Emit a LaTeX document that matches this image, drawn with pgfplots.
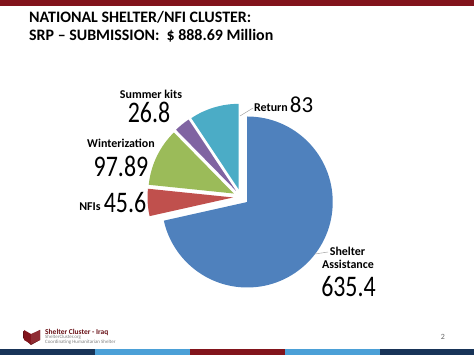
\documentclass[border=0pt]{standalone}
\usepackage{pgfplots}
\usepackage{pgfplotstable}
\pgfplotsset{compat=1.18}
\usepackage{fontspec}
\setmainfont{Carlito}
\newfontfamily\numfont[FakeStretch=0.8]{Carlito}
\definecolor{slice0}{HTML}{4F81BD}
\definecolor{slice1}{HTML}{C0504D}
\definecolor{slice2}{HTML}{9BBB59}
\definecolor{slice3}{HTML}{8064A2}
\definecolor{slice4}{HTML}{4BACC6}
\definecolor{barred}{RGB}{130,20,28}
\definecolor{barnavy}{RGB}{24,52,88}
\definecolor{barblue}{RGB}{75,160,215}
\pgfplotstableread{
name value
Shelter 635.4
NFIs 45.6
Winterization 97.89
Summerkits 26.8
Return 83
}\piedata
\def\total{0}%
\pgfplotsforeachungrouped \i in {0,...,4}{%
  \pgfplotstablegetelem{\i}{value}\of\piedata%
  \pgfmathsetmacro\total{\total+\pgfplotsretval}%
}%
\def\cum{90}%
\pgfplotsforeachungrouped \i in {0,...,4}{%
  \pgfplotstablegetelem{\i}{value}\of\piedata%
  \pgfmathsetmacro\sweep{(\pgfplotsretval/\total)*360}%
  \pgfmathsetmacro\endang{\cum-\sweep}%
  \pgfmathsetmacro\midang{\cum-\sweep/2}%
  \expandafter\xdef\csname sa\i\endcsname{\cum}%
  \expandafter\xdef\csname ea\i\endcsname{\endang}%
  \expandafter\xdef\csname ma\i\endcsname{\midang}%
  \global\let\cum\endang%
}%
\begin{document}
\begin{tikzpicture}
\begin{axis}[
  width=474bp, height=355bp, scale only axis,
  xmin=0, xmax=474, ymin=0, ymax=355,
  hide axis, clip=false]
\coordinate (BL) at (axis cs:0,0);
\coordinate (TR) at (axis cs:474,355);
% slide decoration
\fill[barred] (axis cs:0,349) rectangle (axis cs:474,355);
\fill[barnavy] (axis cs:0,0) rectangle (axis cs:95,6);
\fill[barblue] (axis cs:95,0) rectangle (axis cs:190,6);
\fill[barred] (axis cs:190,0) rectangle (axis cs:285,6);
\fill[barblue] (axis cs:285,0) rectangle (axis cs:380,6);
\fill[barnavy] (axis cs:380,0) rectangle (axis cs:474,6);
% title
\node[anchor=base west, inner sep=0pt, font=\bfseries\fontsize{16}{19}\selectfont] at (axis cs:29,332) {NATIONAL SHELTER/NFI CLUSTER:};
\node[anchor=base west, inner sep=0pt, font=\bfseries\fontsize{16}{19}\selectfont] at (axis cs:29,314) {SRP -- SUBMISSION:\ \ \$ 888.69 Million};
% pie
\pgfplotsinvokeforeach{0,...,4}{
  \fill[slice#1] ([shift={(\csname ma#1\endcsname:8bp)}]axis cs:241,158) -- ++(\csname sa#1\endcsname:85.5bp)
     arc[start angle=\csname sa#1\endcsname, end angle=\csname ea#1\endcsname, radius=85.5bp] -- cycle;
}
% labels
\tikzset{lab/.style={inner sep=0pt, font=\bfseries\fontsize{12}{14}\selectfont},
         num/.style={inner sep=0pt, font=\numfont\fontsize{30}{32}\selectfont}}
\node[lab] at (axis cs:151,261) {Summer kits};
\node[num] at (axis cs:149,243) {26.8};
\node[lab] at (axis cs:271,247) {Return};
\node[inner sep=0pt, font=\fontsize{23}{26}\selectfont] at (axis cs:301.5,250.5) {83};
\draw[gray!70, line width=0.5pt] (axis cs:240,239) -- (axis cs:253,247);
\node[lab] at (axis cs:121,212) {Winterization};
\node[num] at (axis cs:121,189) {97.89};
\node[lab] at (axis cs:90,148) {NFIs};
\node[num] at (axis cs:125,152) {45.6};
\draw[gray!70, line width=0.5pt] (axis cs:315,101) -- (axis cs:328,103);
\node[lab] at (axis cs:347.5,104) {Shelter};
\node[lab] at (axis cs:348,91) {Assistance};
\node[num] at (axis cs:348.5,68) {635.4};
% footer logo
\fill[barred!75!black] (axis cs:23,17) -- (axis cs:23,24) -- (axis cs:31,20) -- (axis cs:40,25) -- (axis cs:40,15) -- (axis cs:31,10) -- cycle;
\fill[barred] (axis cs:24,25) -- (axis cs:31,21) -- (axis cs:31,11) -- (axis cs:24,15) -- cycle;
\fill[barred!90!white] (axis cs:31,21) -- (axis cs:40,25) -- (axis cs:40,15) -- (axis cs:31,11) -- cycle;
\node[anchor=west, text=barred!80!black, font=\bfseries\fontsize{7.5}{8}\selectfont, inner sep=0pt] at (axis cs:45,23) {Shelter Cluster - Iraq};
\node[anchor=west, text=gray, font=\fontsize{5}{5.5}\selectfont, inner sep=0pt] at (axis cs:45,18) {ShelterCluster.org};
\node[anchor=west, text=gray, font=\fontsize{5}{5.5}\selectfont, inner sep=0pt] at (axis cs:45,13) {Coordinating Humanitarian Shelter};
\node[inner sep=0pt, text=gray!80!black, font=\fontsize{8}{9}\selectfont] at (axis cs:443,18) {2};
\end{axis}
\pgfresetboundingbox
\path[use as bounding box] (BL) rectangle (TR);
\end{tikzpicture}
\end{document}
